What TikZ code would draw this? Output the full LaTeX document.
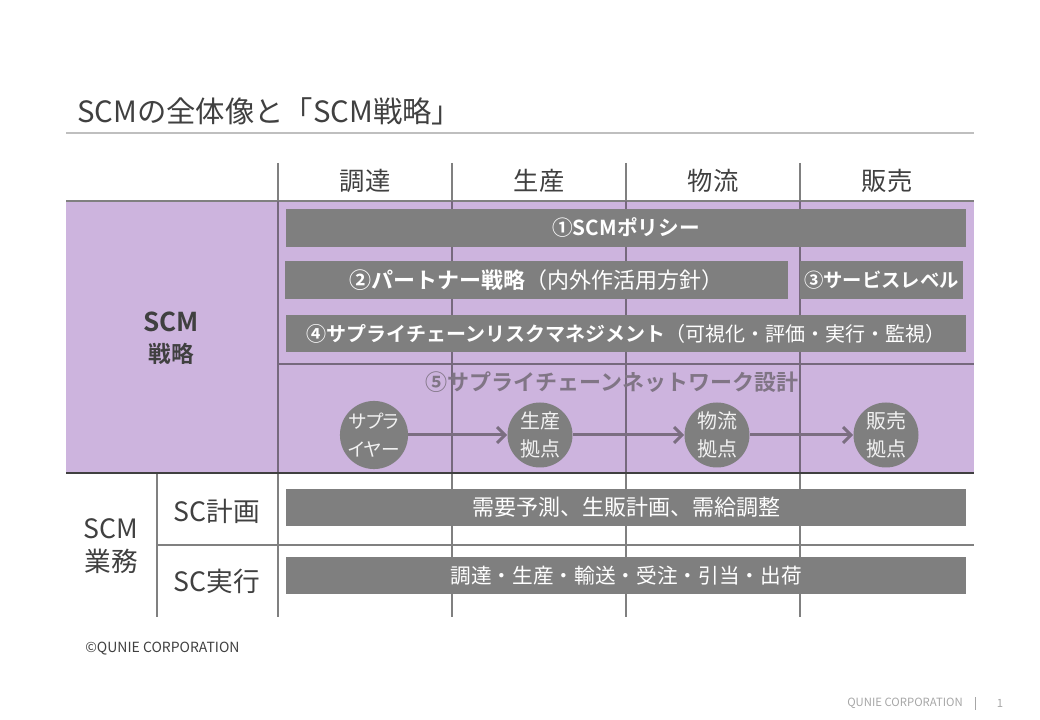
\documentclass[tikz,border=0pt]{standalone}
\usepackage{fontspec}
\setmainfont{Noto Sans CJK JP}[BoldFont={Noto Sans CJK JP Bold}]
\usetikzlibrary{arrows.meta}
\definecolor{purp}{HTML}{CDB4DE}
\definecolor{barg}{HTML}{7F7F7F}
\definecolor{darkt}{HTML}{404040}
\definecolor{gridc}{HTML}{808080}
\definecolor{gridp}{HTML}{76697D}
\definecolor{arrowc}{HTML}{7B6E81}
\definecolor{ttlc}{HTML}{807585}
\definecolor{circt}{HTML}{F2F2F2}
\definecolor{footc}{HTML}{A6A6A6}
\definecolor{rulec}{HTML}{BFBFBF}
\begin{document}
\begin{tikzpicture}[x=0.75pt,y=-0.75pt,
  bar/.style={fill=barg, draw=none, text=white, inner sep=0pt, minimum height=28pt},
  hub/.style={circle, fill=barg, minimum size=48.75pt, inner sep=0pt, text=circt, align=center, font=\fontsize{15pt}{21pt}\selectfont},
  flow/.style={draw=arrowc, line width=2.25pt, -{Straight Barb[length=6pt,width=12pt]}},
  gridline/.style={draw=gridc, line width=1pt},
  gridpline/.style={draw=gridp, line width=1pt},
  head/.style={text=darkt, inner sep=0pt, font=\fontsize{19pt}{22pt}\selectfont},
  rowlbl/.style={text=darkt, inner sep=0pt, font=\fontsize{20pt}{22pt}\selectfont}
]
\useasboundingbox (0,0) rectangle (1040,720);
% title
\node[anchor=west, text=darkt, inner sep=0pt, font=\fontsize{22pt}{24pt}\selectfont] (title) at (77,111) {SCMの全体像と「SCM戦略」};
\draw[rulec, line width=0.8pt] (66,133) -- (974,133);
% purple area
\fill[purp] (66,201) rectangle (974,473);
% grid
\draw[gridline] (66,201) -- (974,201);
\draw[gridline] (278,163) -- (278,201);
\draw[gridline] (452,163) -- (452,201);
\draw[gridline] (626,163) -- (626,201);
\draw[gridline] (800,163) -- (800,201);
\draw[gridpline] (278,201) -- (278,473);
\draw[gridpline] (452,201) -- (452,473);
\draw[gridpline] (626,201) -- (626,473);
\draw[gridpline] (800,201) -- (800,473);
\draw[gridpline] (278,364) -- (974,364);
\draw[gridline] (278,473) -- (278,617);
\draw[gridline] (452,473) -- (452,617);
\draw[gridline] (626,473) -- (626,617);
\draw[gridline] (800,473) -- (800,617);
\draw[gridline] (157,473) -- (157,617);
\draw[gridline] (157,545) -- (974,545);
\draw[draw=darkt, line width=1.2pt] (66,473) -- (974,473);
% column headers
\node[head] (h1) at (365,181) {調達};
\node[head] (h2) at (539,181) {生産};
\node[head] (h3) at (713,181) {物流};
\node[head] (h4) at (887,181) {販売};
% left labels
\node[text=darkt, inner sep=0pt, font=\bfseries\fontsize{19.5pt}{22pt}\selectfont] (l1) at (171,322) {SCM};
\node[text=darkt, inner sep=0pt, font=\bfseries\fontsize{17pt}{20pt}\selectfont] (l2) at (171,354) {戦略};
\node[rowlbl] (l3) at (111,529) {SCM};
\node[rowlbl] (l4) at (111,561) {業務};
\node[rowlbl] (l5) at (217,511) {SC計画};
\node[rowlbl] (l6) at (217,581) {SC実行};
% strategy bars
\node[bar, minimum width=510pt, font=\bfseries\fontsize{15.5pt}{18pt}\selectfont] (b1) at (626,228) {①SCMポリシー};
\node[bar, minimum width=377.25pt, font=\fontsize{16.5pt}{18pt}\selectfont] (b2) at (536.5,280) {\textbf{②パートナー戦略}（内外作活用方針）};
\node[bar, minimum width=122.25pt, font=\bfseries\fontsize{14.5pt}{18pt}\selectfont] (b3) at (881.5,280) {③サービスレベル};
\node[bar, minimum width=510pt, font=\fontsize{15pt}{18pt}\selectfont] (b4) at (626,333.5) {\textbf{④サプライチェーンリスクマネジメント}（可視化・評価・実行・監視）};
\node[text=ttlc, inner sep=0pt, font=\bfseries\fontsize{16.5pt}{18pt}\selectfont] (b5) at (612,382) {⑤サプライチェーンネットワーク設計};
% network
\node[hub, font=\addfontfeatures{RawFeature=+palt}\fontsize{14pt}{21pt}\selectfont] (c1) at (374,435) {サプラ\\イヤー};
\node[hub] (c2) at (540,435) {生産\\拠点};
\node[hub] (c3) at (717,435) {物流\\拠点};
\node[hub] (c4) at (886,435) {販売\\拠点};
\draw[flow] (c1) -- (c2);
\draw[flow] (c2) -- (c3);
\draw[flow] (c3) -- (c4);
% operations bars
\node[bar, minimum width=510pt, font=\fontsize{16.5pt}{18pt}\selectfont] (o1) at (626,507.5) {需要予測、生販計画、需給調整};
\node[bar, minimum width=510pt, font=\fontsize{15.5pt}{18pt}\selectfont] (o2) at (626,575.5) {調達・生産・輸送・受注・引当・出荷};
% footer
\node[anchor=west, text=darkt, inner sep=0pt, font=\fontsize{10.5pt}{12pt}\selectfont] (copy) at (85,649) {©QUNIE CORPORATION};
\node[anchor=east, text=footc, inner sep=0pt, font=\fontsize{8.5pt}{10pt}\selectfont] (corp) at (963,703) {QUNIE CORPORATION};
\draw[footc, line width=0.5pt] (975,697) -- (975,710);
\node[text=footc, inner sep=0pt, font=\fontsize{8.5pt}{10pt}\selectfont] (pg) at (1000,703) {1};
\end{tikzpicture}
\end{document}
